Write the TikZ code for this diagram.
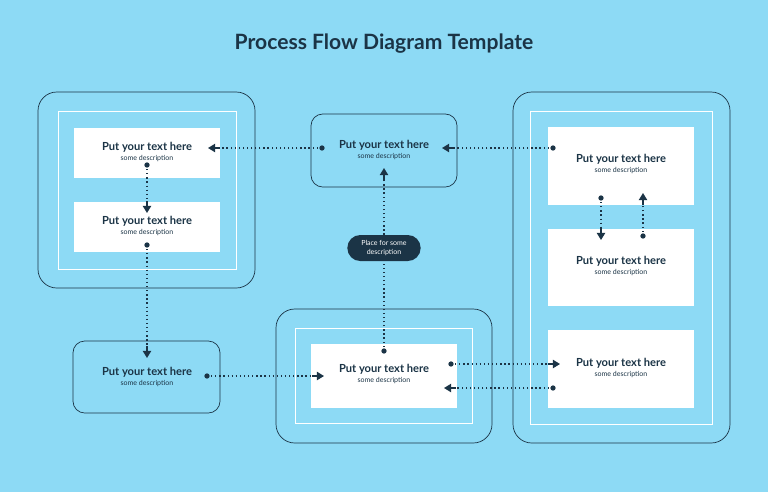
\documentclass[tikz,border=0pt]{standalone}
\usepackage{fontspec}
\setmainfont{Lato}
\usetikzlibrary{arrows.meta,calc}
\definecolor{bg}{RGB}{141,218,245}
\definecolor{navy}{RGB}{27,52,70}
\tikzset{
 grp/.style={draw=navy,line width=0.6pt,rounded corners=16pt},
 inner/.style={draw=white,line width=0.8pt},
 wbox/.style={fill=white},
 obox/.style={draw=navy,line width=0.6pt,rounded corners=10pt},
 dotline/.style={navy,line width=1.1pt,dash pattern=on 1.1pt off 2.4pt},
 tipline/.style={navy,line width=1.2pt,-{Triangle[length=6pt,width=7pt]}},
 startdot/.style={circle,fill=navy,inner sep=0pt,minimum size=4.5pt},
 lbl/.style={align=center,text=navy,font=\fontsize{9.5}{10}\selectfont\bfseries},
}
\newcommand{\lbltext}{Put your text here\\[-1pt]{\fontsize{6}{7}\selectfont\mdseries some description}}
\newcommand{\flow}[2]{\node[startdot] at (#1) {};
 \draw[dotline] (#1) -- ($(#2)!0.36cm!(#1)$);
 \draw[tipline] ($(#2)!0.36cm!(#1)$) -- (#2);}
\begin{document}
\begin{tikzpicture}[x=0.03cm,y=-0.03cm]
\useasboundingbox (0,0) rectangle (768,492);
\fill[bg] (0,0) rectangle (768,492);
\node[text=navy,font=\fontsize{18}{19}\selectfont\bfseries] (title) at (384,44) {Process Flow Diagram Template};
% left group
\draw[grp] (38,92) rectangle (255,288);
\draw[inner] (58,111) rectangle (236,269);
\fill[wbox] (74,128) rectangle (220,178); \node[lbl] (b1) at (147,152) {\lbltext};
\fill[wbox] (74,202) rectangle (220,252); \node[lbl] (b2) at (147,226) {\lbltext};
% middle top
\draw[obox] (311,114) rectangle (457,187); \node[lbl] (m1) at (384,150) {\lbltext};
% pill
\node[fill=navy,text=white,rounded corners=11pt,minimum width=2.2cm,minimum height=0.78cm,align=center,font=\fontsize{6}{7}\selectfont,inner sep=2pt] (pill) at (384,248) {Place for some\\description};
% bottom left
\draw[obox] (73,341) rectangle (220,413); \node[lbl] (bl) at (147,377) {\lbltext};
% bottom middle group
\draw[grp] (276,309) rectangle (492,443);
\draw[inner] (295,328) rectangle (472,423);
\fill[wbox] (311,344) rectangle (457,408); \node[lbl] (bm) at (384,374) {\lbltext};
% right group
\draw[grp] (513,92) rectangle (730,443);
\draw[inner] (530,111) rectangle (712,424);
\fill[wbox] (548,127) rectangle (694,205); \node[lbl] (r1) at (621,164) {\lbltext};
\fill[wbox] (548,229) rectangle (694,306); \node[lbl] (r2) at (621,266) {\lbltext};
\fill[wbox] (548,330) rectangle (694,408); \node[lbl] (r3) at (621,368) {\lbltext};
% coordinates
\coordinate (a1) at (322,148); \coordinate (a2) at (208,148);
\coordinate (c1) at (553,148); \coordinate (c2) at (442,148);
\coordinate (d1) at (147,165); \coordinate (d2) at (147,213);
\coordinate (e1) at (147,245); \coordinate (e2) at (147,358);
\coordinate (f1) at (207,376); \coordinate (f2) at (324,376);
\coordinate (g1) at (384,351); \coordinate (g2) at (384,168);
\coordinate (h1) at (451,364); \coordinate (h2) at (560,364);
\coordinate (i1) at (553,388); \coordinate (i2) at (444,388);
\coordinate (j1) at (601,198); \coordinate (j2) at (601,240);
\coordinate (k1) at (643,236); \coordinate (k2) at (643,193);
\flow{a1}{a2}\flow{c1}{c2}\flow{d1}{d2}\flow{e1}{e2}\flow{f1}{f2}
\node[startdot] at (g1) {};
\draw[dotline] (g1) -- (pill.south);
\draw[dotline] (pill.north) -- ($(g2)!0.36cm!(g1)$);
\draw[tipline] ($(g2)!0.36cm!(g1)$) -- (g2);
\flow{h1}{h2}\flow{i1}{i2}\flow{j1}{j2}\flow{k1}{k2}
\end{tikzpicture}
\end{document}
